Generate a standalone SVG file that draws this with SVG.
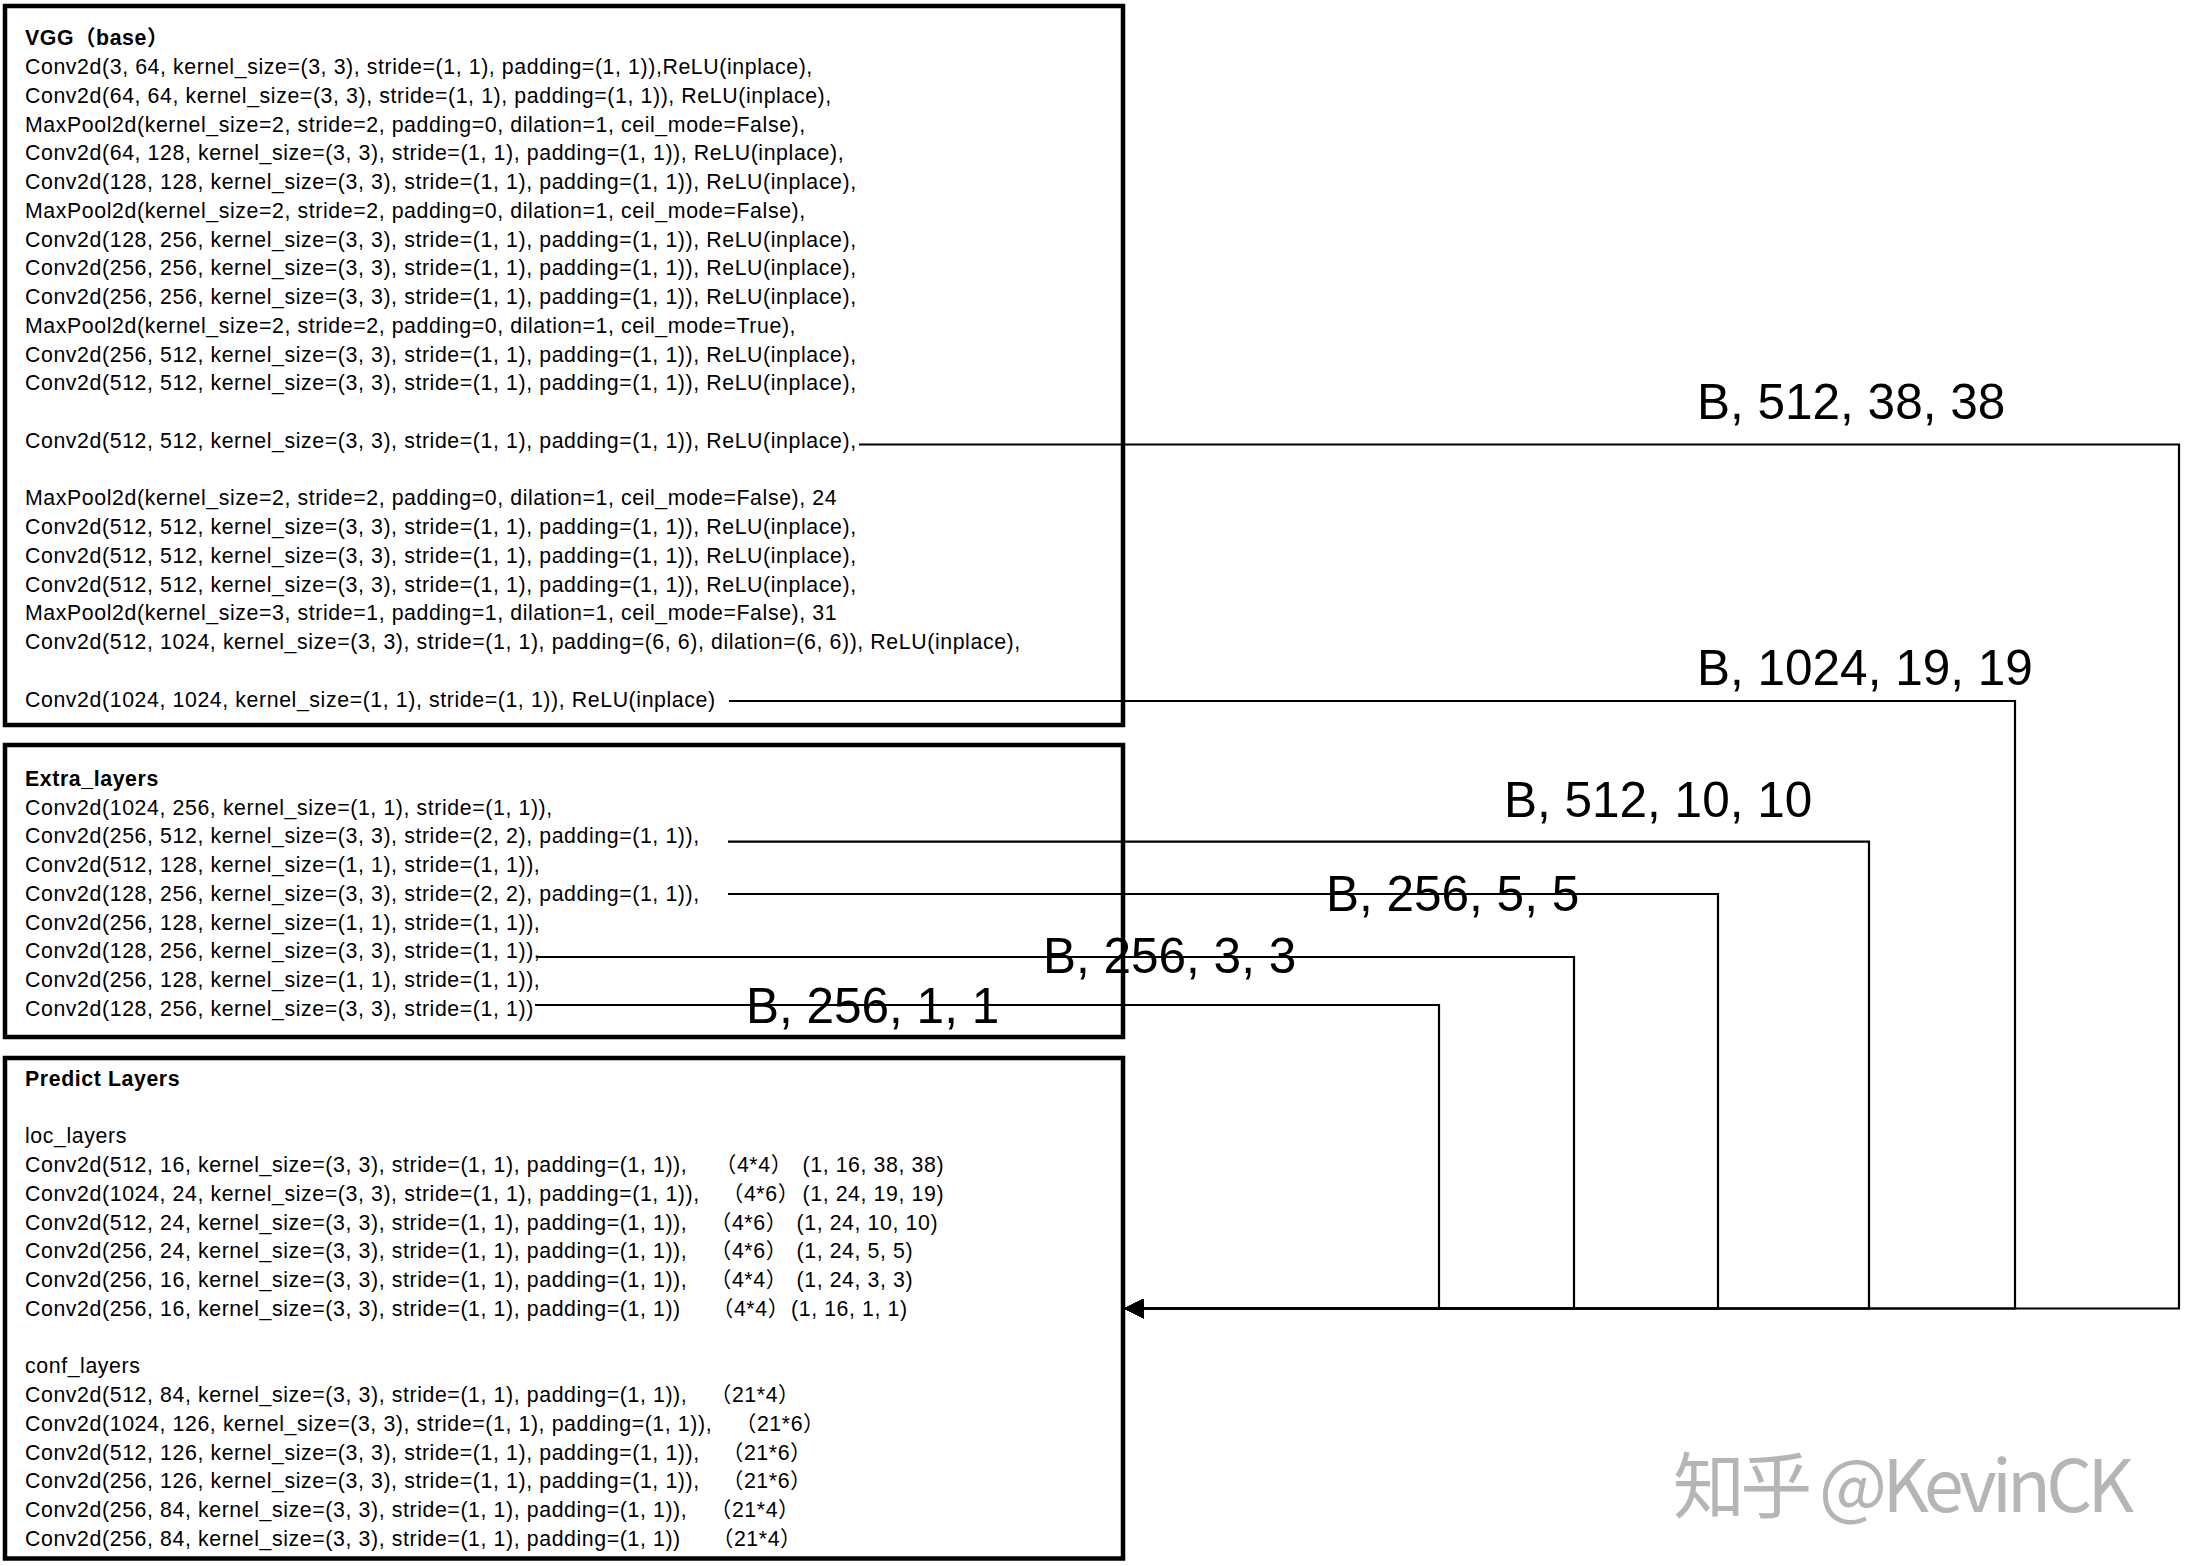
<svg xmlns="http://www.w3.org/2000/svg" width="2190" height="1566" viewBox="0 0 2190 1566">
<style>
.bg{fill:#fff}
.box{fill:none;stroke:#000;stroke-width:4.5}
.t{font-family:"Liberation Sans","Noto Sans CJK SC",sans-serif;font-size:21.3px;letter-spacing:0.6px;fill:#000}
.b{font-weight:bold}
.lbl{font-family:"Liberation Sans",sans-serif;font-size:49.5px;fill:#000}
.wm{font-family:"Noto Sans CJK SC",sans-serif;font-size:72px;fill:#b5b5b5}
.c{fill:none;stroke:#000;stroke-width:2.2}
</style>
<defs>
<marker id="arr" markerUnits="userSpaceOnUse" markerWidth="22" markerHeight="20" refX="20" refY="10" orient="auto">
<path d="M0,0 L20,10 L0,20 z" fill="#000"/>
</marker>
</defs>
<rect class="bg" x="0" y="0" width="2190" height="1566"/>

<g id="vgg">
<rect class="box" x="5" y="6" width="1118" height="719"/>
<text class="t b" x="25" y="45">VGG（base）</text>
<text class="t" x="25" y="74">Conv2d(3, 64, kernel_size=(3, 3), stride=(1, 1), padding=(1, 1)),ReLU(inplace),</text>
<text class="t" x="25" y="102.75">Conv2d(64, 64, kernel_size=(3, 3), stride=(1, 1), padding=(1, 1)), ReLU(inplace),</text>
<text class="t" x="25" y="131.5">MaxPool2d(kernel_size=2, stride=2, padding=0, dilation=1, ceil_mode=False),</text>
<text class="t" x="25" y="160.25">Conv2d(64, 128, kernel_size=(3, 3), stride=(1, 1), padding=(1, 1)), ReLU(inplace),</text>
<text class="t" x="25" y="189">Conv2d(128, 128, kernel_size=(3, 3), stride=(1, 1), padding=(1, 1)), ReLU(inplace),</text>
<text class="t" x="25" y="217.75">MaxPool2d(kernel_size=2, stride=2, padding=0, dilation=1, ceil_mode=False),</text>
<text class="t" x="25" y="246.5">Conv2d(128, 256, kernel_size=(3, 3), stride=(1, 1), padding=(1, 1)), ReLU(inplace),</text>
<text class="t" x="25" y="275.25">Conv2d(256, 256, kernel_size=(3, 3), stride=(1, 1), padding=(1, 1)), ReLU(inplace),</text>
<text class="t" x="25" y="304">Conv2d(256, 256, kernel_size=(3, 3), stride=(1, 1), padding=(1, 1)), ReLU(inplace),</text>
<text class="t" x="25" y="332.75">MaxPool2d(kernel_size=2, stride=2, padding=0, dilation=1, ceil_mode=True),</text>
<text class="t" x="25" y="361.5">Conv2d(256, 512, kernel_size=(3, 3), stride=(1, 1), padding=(1, 1)), ReLU(inplace),</text>
<text class="t" x="25" y="390.25">Conv2d(512, 512, kernel_size=(3, 3), stride=(1, 1), padding=(1, 1)), ReLU(inplace),</text>
<text class="t" x="25" y="447.75">Conv2d(512, 512, kernel_size=(3, 3), stride=(1, 1), padding=(1, 1)), ReLU(inplace),</text>
<text class="t" x="25" y="505.25">MaxPool2d(kernel_size=2, stride=2, padding=0, dilation=1, ceil_mode=False), 24</text>
<text class="t" x="25" y="534">Conv2d(512, 512, kernel_size=(3, 3), stride=(1, 1), padding=(1, 1)), ReLU(inplace),</text>
<text class="t" x="25" y="562.75">Conv2d(512, 512, kernel_size=(3, 3), stride=(1, 1), padding=(1, 1)), ReLU(inplace),</text>
<text class="t" x="25" y="591.5">Conv2d(512, 512, kernel_size=(3, 3), stride=(1, 1), padding=(1, 1)), ReLU(inplace),</text>
<text class="t" x="25" y="620.25">MaxPool2d(kernel_size=3, stride=1, padding=1, dilation=1, ceil_mode=False), 31</text>
<text class="t" x="25" y="649">Conv2d(512, 1024, kernel_size=(3, 3), stride=(1, 1), padding=(6, 6), dilation=(6, 6)), ReLU(inplace),</text>
<text class="t" x="25" y="706.5">Conv2d(1024, 1024, kernel_size=(1, 1), stride=(1, 1)), ReLU(inplace)</text>
</g>

<g id="extra">
<rect class="box" x="5" y="745" width="1118" height="292"/>
<text class="t b" x="25" y="785.8">Extra_layers</text>
<text class="t" x="25" y="814.55">Conv2d(1024, 256, kernel_size=(1, 1), stride=(1, 1)),</text>
<text class="t" x="25" y="843.3">Conv2d(256, 512, kernel_size=(3, 3), stride=(2, 2), padding=(1, 1)),</text>
<text class="t" x="25" y="872.05">Conv2d(512, 128, kernel_size=(1, 1), stride=(1, 1)),</text>
<text class="t" x="25" y="900.8">Conv2d(128, 256, kernel_size=(3, 3), stride=(2, 2), padding=(1, 1)),</text>
<text class="t" x="25" y="929.55">Conv2d(256, 128, kernel_size=(1, 1), stride=(1, 1)),</text>
<text class="t" x="25" y="958.3">Conv2d(128, 256, kernel_size=(3, 3), stride=(1, 1)),</text>
<text class="t" x="25" y="987.05">Conv2d(256, 128, kernel_size=(1, 1), stride=(1, 1)),</text>
<text class="t" x="25" y="1015.8">Conv2d(128, 256, kernel_size=(3, 3), stride=(1, 1))</text>
</g>

<g id="predict">
<rect class="box" x="5" y="1058" width="1118" height="500.5"/>
<text class="t b" x="25" y="1085.8">Predict Layers</text>
<text class="t" x="25" y="1143.3">loc_layers</text>
<text class="t" y="1172.05"><tspan x="25">Conv2d(512, 16, kernel_size=(3, 3), stride=(1, 1), padding=(1, 1)),</tspan><tspan x="715">（4*4）</tspan><tspan x="802.5">(1, 16, 38, 38)</tspan></text>
<text class="t" y="1200.8"><tspan x="25">Conv2d(1024, 24, kernel_size=(3, 3), stride=(1, 1), padding=(1, 1)),</tspan><tspan x="722">（4*6）</tspan><tspan x="802.5">(1, 24, 19, 19)</tspan></text>
<text class="t" y="1229.55"><tspan x="25">Conv2d(512, 24, kernel_size=(3, 3), stride=(1, 1), padding=(1, 1)),</tspan><tspan x="710">（4*6）</tspan><tspan x="796.5">(1, 24, 10, 10)</tspan></text>
<text class="t" y="1258.3"><tspan x="25">Conv2d(256, 24, kernel_size=(3, 3), stride=(1, 1), padding=(1, 1)),</tspan><tspan x="710">（4*6）</tspan><tspan x="796.5">(1, 24, 5, 5)</tspan></text>
<text class="t" y="1287.05"><tspan x="25">Conv2d(256, 16, kernel_size=(3, 3), stride=(1, 1), padding=(1, 1)),</tspan><tspan x="710">（4*4）</tspan><tspan x="796.5">(1, 24, 3, 3)</tspan></text>
<text class="t" y="1315.8"><tspan x="25">Conv2d(256, 16, kernel_size=(3, 3), stride=(1, 1), padding=(1, 1))</tspan><tspan x="712">（4*4）</tspan><tspan x="791">(1, 16, 1, 1)</tspan></text>
<text class="t" x="25" y="1373.3">conf_layers</text>
<text class="t" y="1402.05"><tspan x="25">Conv2d(512, 84, kernel_size=(3, 3), stride=(1, 1), padding=(1, 1)),</tspan><tspan x="710">（21*4）</tspan></text>
<text class="t" y="1430.8"><tspan x="25">Conv2d(1024, 126, kernel_size=(3, 3), stride=(1, 1), padding=(1, 1)),</tspan><tspan x="735">（21*6）</tspan></text>
<text class="t" y="1459.55"><tspan x="25">Conv2d(512, 126, kernel_size=(3, 3), stride=(1, 1), padding=(1, 1)),</tspan><tspan x="722">（21*6）</tspan></text>
<text class="t" y="1488.3"><tspan x="25">Conv2d(256, 126, kernel_size=(3, 3), stride=(1, 1), padding=(1, 1)),</tspan><tspan x="722">（21*6）</tspan></text>
<text class="t" y="1517.05"><tspan x="25">Conv2d(256, 84, kernel_size=(3, 3), stride=(1, 1), padding=(1, 1)),</tspan><tspan x="710">（21*4）</tspan></text>
<text class="t" y="1545.8"><tspan x="25">Conv2d(256, 84, kernel_size=(3, 3), stride=(1, 1), padding=(1, 1))</tspan><tspan x="712">（21*4）</tspan></text>
</g>

<g id="connectors">
<path class="c" d="M859,444.5 H2179 V1308.5 H1124" marker-end="url(#arr)"/>
<path class="c" d="M729,701 H2015 V1308.5 H1124" marker-end="url(#arr)"/>
<path class="c" d="M728,841.7 H1869 V1308.5 H1124" marker-end="url(#arr)"/>
<path class="c" d="M728,894 H1718 V1308.5 H1124" marker-end="url(#arr)"/>
<path class="c" d="M537,957 H1574 V1308.5 H1124" marker-end="url(#arr)"/>
<path class="c" d="M535,1005 H1439 V1308.5 H1124" marker-end="url(#arr)"/>
</g>

<g id="labels">
<text class="lbl" x="1697" y="419">B, 512, 38, 38</text>
<text class="lbl" x="1697" y="685">B, 1024, 19, 19</text>
<text class="lbl" x="1504" y="817">B, 512, 10, 10</text>
<text class="lbl" x="1326" y="911">B, 256, 5, 5</text>
<text class="lbl" x="1043" y="973">B, 256, 3, 3</text>
<text class="lbl" x="746" y="1023">B, 256, 1, 1</text>
</g>

<text class="wm" x="1673" y="1512" textLength="461">知乎 @KevinCK</text>
</svg>
